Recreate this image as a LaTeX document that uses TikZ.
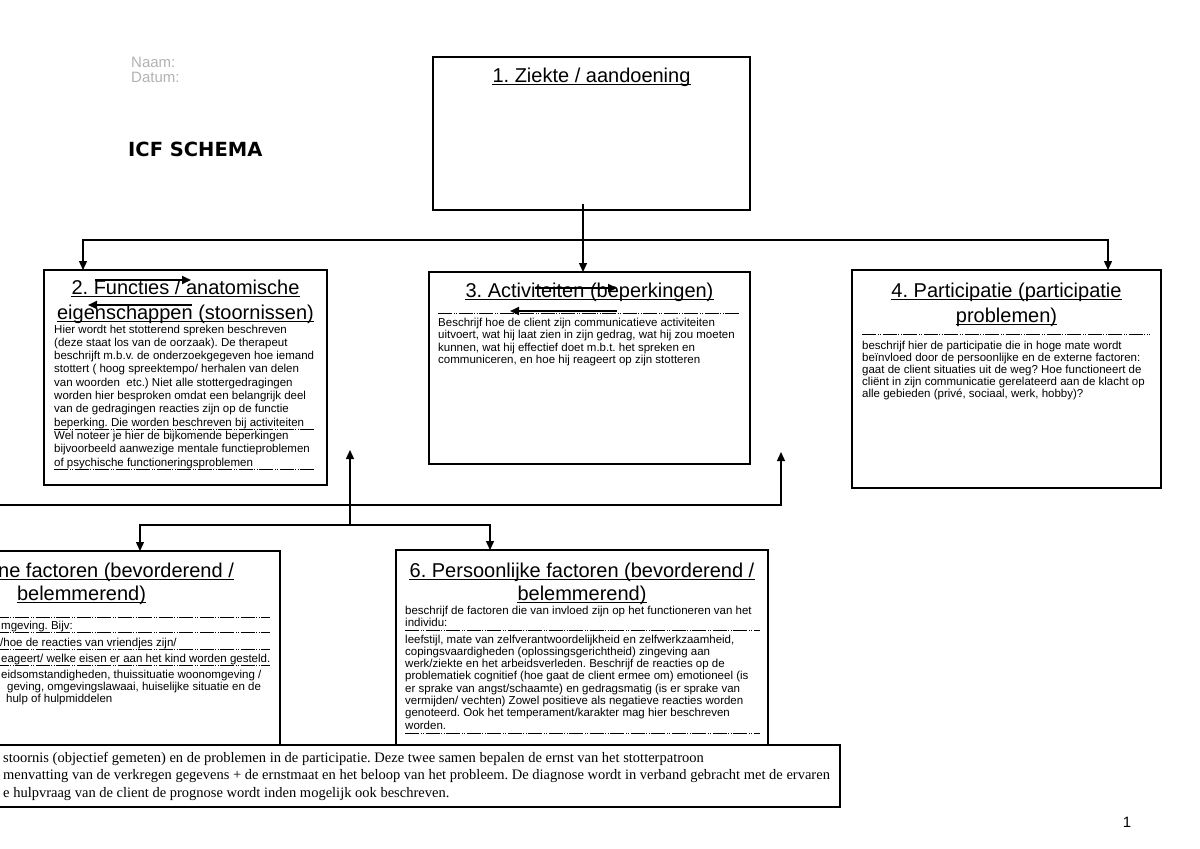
\documentclass[tikz,border=0pt]{standalone}
\usepackage{fontspec}
\setmainfont{Liberation Sans}
\newfontfamily\serifx{Liberation Serif}
\newfontfamily\dejab{DejaVu Sans}
\usetikzlibrary{arrows.meta}
\begin{document}
\frenchspacing
\begin{tikzpicture}[x=1pt,y=-1pt,
  box/.style={draw, line width=1.8pt, outer sep=0pt, inner sep=0pt, anchor=north west},
  conn/.style={line width=1.4pt},
  arr/.style={conn, -{Triangle[length=9pt,width=8pt]}},
  arrboth/.style={conn, {Triangle[length=9pt,width=8pt]}-{Triangle[length=9pt,width=8pt]}},
  ovarr/.style={line width=2pt, -{Triangle[length=9pt,width=8pt]}},
  ttl/.style={inner sep=0pt, anchor=base, font=\fontsize{20}{24}\selectfont},
  ttlw/.style={ttl, anchor=base west},
  body/.style={inner sep=0pt, anchor=base west, font=\fontsize{11.5}{12}\selectfont},
  ul/.style={line width=1.2pt},
  formline/.style={line width=1pt, dash pattern=on 14pt off 1.5pt on 1pt off 1.5pt on 1pt off 1.5pt},
  serifbody/.style={inner sep=0pt, anchor=base west, font=\serifx\fontsize{14.5}{16}\selectfont}
]
\useasboundingbox (0,0) rectangle (1200,849);

% header texts
\node[inner sep=0pt, anchor=base west, text=gray!60, font=\fontsize{15}{16}\selectfont] (naam) at (131,67) {Naam:};
\node[inner sep=0pt, anchor=base west, text=gray!60, font=\fontsize{15}{16}\selectfont] (datum) at (131,82.5) {Datum:};
\node[inner sep=0pt, anchor=base west, font=\dejab\bfseries\fontsize{19.5}{22}\selectfont] (icf) at (128,156) {ICF SCHEMA};
\node[inner sep=0pt, anchor=base, font=\fontsize{15}{16}\selectfont] (pnum) at (1127,827) {1};

% boxes
\node[box, minimum width=317pt, minimum height=153pt] (b1) at (433,57) {};
\node[box, minimum width=283pt, minimum height=215pt] (b2) at (44,270) {};
\node[box, minimum width=321pt, minimum height=192pt] (b3) at (429,272) {};
\node[box, minimum width=309pt, minimum height=218pt] (b4) at (852,270) {};
\node[box, minimum width=397pt, minimum height=194pt] (b5) at (-117,551) {};
\node[box, minimum width=372pt, minimum height=195pt] (b6) at (396,550) {};
\node[box, minimum width=957pt, minimum height=62pt] (b7) at (-117,745) {};

% titles
\node[ttl] (t1) at (591.5,82) {1. Ziekte / aandoening};
\node[ttl] (t2a) at (185.5,294) {2. Functies / anatomische};
\node[ttl] (t2b) at (185.5,319) {eigenschappen (stoornissen)};
\node[ttl] (t3) at (589.5,297) {3. Activiteiten (beperkingen)};
\node[ttl] (t4a) at (1006.5,297) {4. Participatie (participatie};
\node[ttl] (t4b) at (1006.5,322) {problemen)};
\node[ttlw] (t5a) at (-2,577) {ne factoren (bevorderend /};
\node[ttl] (t5b) at (81.5,600) {belemmerend)};
\node[ttl] (t6a) at (582,577) {6. Persoonlijke factoren (bevorderend /};
\node[ttl] (t6b) at (582,600) {belemmerend)};
\foreach \n in {t1,t2a,t2b,t3,t4a,t4b,t5a,t5b,t6a,t6b}
  \draw[ul] ([yshift=-2.5pt]\n.base west) -- ([yshift=-2.5pt]\n.base east);

% overlay arrows in titles
\coordinate (o1s) at (95,280); \coordinate (o1e) at (191,280);
\coordinate (o2s) at (192,305); \coordinate (o2e) at (88,305);
\coordinate (o3s) at (535,288); \coordinate (o3e) at (617,288);
\coordinate (o4s) at (617,311); \coordinate (o4e) at (510,311);
\draw[ovarr] (o1s) -- (o1e);
\draw[ovarr] (o2s) -- (o2e);
\draw[ovarr] (o3s) -- (o3e);
\draw[ovarr] (o4s) -- (o4e);

% box 2 body
\foreach \t [count=\i] in {
 {Hier wordt het stotterend spreken beschreven},
 {(deze staat los van de oorzaak). De therapeut},
 {beschrijft m.b.v. de onderzoekgegeven hoe iemand},
 {stottert ( hoog spreektempo/ herhalen van delen},
 {van woorden\ \ etc.) Niet alle stottergedragingen},
 {worden hier besproken omdat een belangrijk deel},
 {van de gedragingen reacties zijn op de functie},
 {beperking. Die worden beschreven bij activiteiten},
 {Wel noteer je hier de bijkomende beperkingen},
 {bijvoorbeeld aanwezige mentale functieproblemen},
 {of psychische functioneringsproblemen}}
  \node[body] (b2l\i) at (54,{333+13.3*(\i-1)}) {\t};
\draw[formline] (54,429) -- (315,429);
\draw[formline] (54,469) -- (315,469);

% box 3 body
\draw[formline] (438,313.5) -- (740,313.5);
\foreach \t [count=\i] in {
 {Beschrijf hoe de client zijn communicatieve activiteiten},
 {uitvoert, wat hij laat zien in zijn gedrag, wat hij zou moeten},
 {kunnen, wat hij effectief doet m.b.t. het spreken en},
 {communiceren, en hoe hij reageert op zijn stotteren}}
  \node[body] (b3l\i) at (438,{326+12.5*(\i-1)}) {\t};

% box 4 body
\draw[formline] (862,334) -- (1150,334);
\foreach \t [count=\i] in {
 {beschrijf hier de participatie die in hoge mate wordt},
 {beïnvloed door de persoonlijke en de externe factoren:},
 {gaat de client situaties uit de weg? Hoe functioneert de},
 {cliënt in zijn communicatie gerelateerd aan de klacht op},
 {alle gebieden (privé, sociaal, werk, hobby)?}}
  \node[body] (b4l\i) at (862,{349+12*(\i-1)}) {\t};

% box 5 body
\foreach \yy in {617,632,649,665}
  \draw[formline] (-108,\yy) -- (270,\yy);
\node[body] (b5l1) at (1,629) {mgeving. Bijv:};
\node[body] (b5l2) at (0,646) {/hoe de reacties van vriendjes zijn/};
\node[body] (b5l3) at (1,662) {eageert/ welke eisen er aan het kind worden gesteld.};
\node[body] (b5l4) at (1,678) {eidsomstandigheden, thuissituatie woonomgeving /};
\node[body] (b5l5) at (7,690) {geving, omgevingslawaai, huiselijke situatie en de};
\node[body] (b5l6) at (6,702) {hulp of hulpmiddelen};

% box 6 body
\node[body] (b6l1) at (405,614) {beschrijf de factoren die van invloed zijn op het functioneren van het};
\node[body] (b6l2) at (405,626) {individu:};
\draw[formline] (405,630) -- (760,630);
\foreach \t [count=\i] in {
 {leefstijl, mate van zelfverantwoordelijkheid en zelfwerkzaamheid,},
 {copingsvaardigheden (oplossingsgerichtheid) zingeving aan},
 {werk/ziekte en het arbeidsverleden. Beschrijf de reacties op de},
 {problematiek cognitief (hoe gaat de client ermee om) emotioneel (is},
 {er sprake van angst/schaamte) en gedragsmatig (is er sprake van},
 {vermijden/ vechten) Zowel positieve als negatieve reacties worden},
 {genoteerd. Ook het temperament/karakter mag hier beschreven},
 {worden.}}
  \node[body] (b6m\i) at (405,{643+12.3*(\i-1)}) {\t};
\draw[formline] (405,733) -- (760,733);

% bottom box text
\node[serifbody] (b7l1) at (3,762) {stoornis (objectief gemeten) en de problemen in de participatie. Deze twee samen bepalen de ernst van het stotterpatroon};
\node[serifbody] (b7l2) at (3,779.5) {menvatting van de verkregen gegevens + de ernstmaat en het beloop van het probleem. De diagnose wordt in verband gebracht met de ervaren};
\node[serifbody] (b7l3) at (3,797) {e hulpvraag van de client de prognose wordt inden mogelijk ook beschreven.};

% connectors
\coordinate (c1) at (583,204);
\coordinate (hL) at (83,240);
\coordinate (hR) at (1108,240);
\draw[arr] (c1) -- (b3.north -| c1);
\draw[arrboth] (b2.north -| hL) -- (hL) -- (hR) -- (b4.north -| hR);

\coordinate (u1) at (350,450);
\coordinate (u2) at (781,452);
\coordinate (j0) at (350,525);
\coordinate (j5) at (140,525);
\coordinate (j6) at (490,525);
\coordinate (lL) at (-30,505);
\draw[arr] (j0) -- (u1);
\draw[arrboth] (b5.north -| j5) -- (j5) -- (j6) -- (b6.north -| j6);
\draw[arr] (lL) -| (u2);
\end{tikzpicture}
\end{document}
